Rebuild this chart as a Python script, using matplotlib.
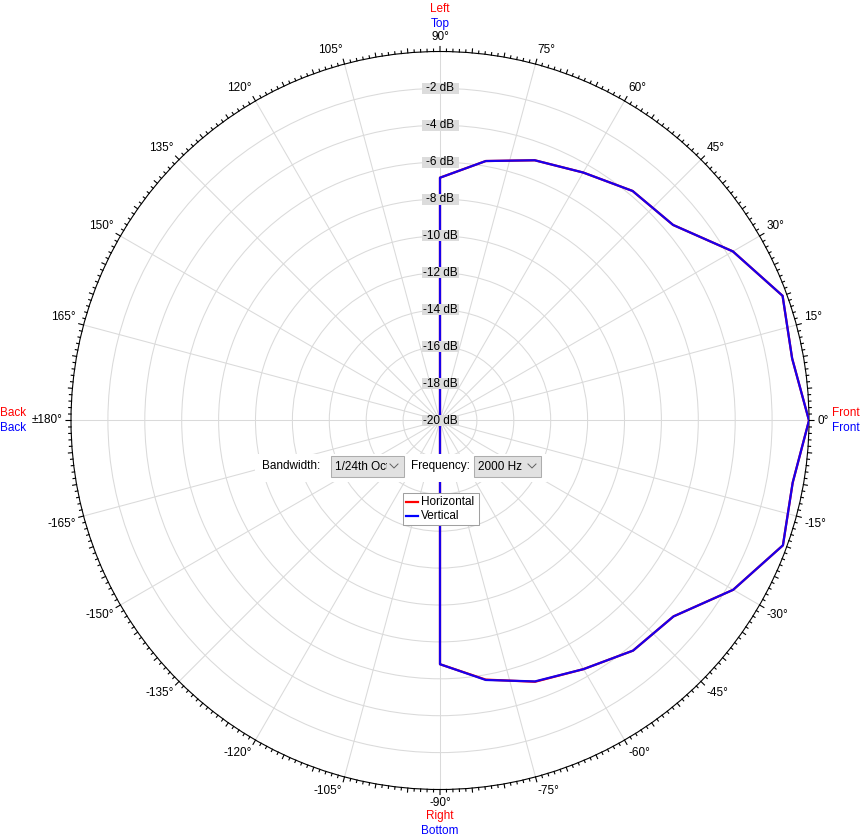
import numpy as np
import matplotlib
matplotlib.use("Agg")
import matplotlib.pyplot as plt
from matplotlib.patches import Rectangle
from matplotlib.lines import Line2D
import matplotlib.transforms as mtransforms

plt.rcParams['font.family'] = ['Liberation Sans', 'DejaVu Sans']

# ---------------- data ----------------
angles_deg = list(range(-180, 181, 10))
vertical_db = [-20, -20, -20, -20, -20, -20, -20, -20, -20,
               -6.79, -5.72, -4.95, -4.44, -3.72, -3.48, -1.65, -0.22, -0.59,
               0.0,
               -0.62, -0.24, -1.67, -3.51, -3.76, -4.48, -4.99, -5.72, -6.84,
               -20, -20, -20, -20, -20, -20, -20, -20, -20]
horizontal_db = [-20, -20, -20, -20, -20, -20, -20, -20, -20,
                 -6.79, -5.74, -4.93, -4.44, -3.72, -3.48, -1.65, -0.22, -0.59,
                 0.0,
                 -0.62, -0.24, -1.67, -3.51, -3.76, -4.48, -4.99, -5.72, -6.84,
                 -20, -20, -20, -20, -20, -20, -20, -20, -20]
ring_db = [-2, -4, -6, -8, -10, -12, -14, -16, -18, -20]
angle_labels_deg = list(range(-165, 181, 15))
series_names = ["Horizontal", "Vertical"]
series_colors = ["#ff0000", "#0000ff"]
bandwidth_text = "1/24th Oct"
frequency_text = "2000 Hz"

# ---------------- figure ----------------
W, H = 862, 838
fig = plt.figure(figsize=(W / 100, H / 100), dpi=100)
fig.patch.set_facecolor("white")

cx, cy, R = 440, 420.5, 369
rw, rh = R / W, R / H
ax = fig.add_axes([cx / W - rw, 1 - cy / H - rh, 2 * rw, 2 * rh], projection="polar")
ax.set_theta_zero_location("E")
ax.set_theta_direction(1)
ax.set_ylim(-20, 0)
ax.set_xticks(np.deg2rad(np.arange(0, 360, 15)))
ax.set_xticklabels([])
ax.set_yticks(ring_db[:-1])
ax.set_yticklabels([])
ax.grid(True, color="#dadada", lw=0.75)
ax.tick_params(axis="x", length=0)
ax.spines["polar"].set_color("black")
ax.spines["polar"].set_linewidth(0.8)

px2db = 20.0 / R

# tick marks on outer circle
tx, ty = [], []
for d in range(360):
    L = 5 if d % 15 == 0 else (4 if d % 5 == 0 else 2.5)
    th = np.deg2rad(d)
    tx += [th, th, np.nan]
    ty += [0, L * px2db, np.nan]
ax.plot(tx, ty, color="black", lw=0.8, clip_on=False)

# data lines
th = np.deg2rad(angles_deg)
ax.plot(th, horizontal_db, color=series_colors[0], lw=1.6, zorder=3)
ax.plot(th, vertical_db, color="#1800ec", lw=1.6, zorder=4)

# angle labels
for a in angle_labels_deg:
    t = np.deg2rad(a)
    c, s = np.cos(t), np.sin(t)
    ha = "left" if c > 1e-6 else ("right" if c < -1e-6 else "center")
    va = "bottom" if s > 1e-6 else ("top" if s < -1e-6 else "center")
    lab = "\u00b1180\u00b0" if a == 180 else f"{a}\u00b0"
    ax.annotate(lab, xy=(t, 0), xytext=(8 * c, 8 * s), textcoords="offset pixels",
                ha=ha, va=va, fontsize=8.5, color="black", annotation_clip=False)

# direction labels
def dirlab(theta_deg, dx, dy, text, color, ha, va):
    ax.annotate(text, xy=(np.deg2rad(theta_deg), 0), xytext=(dx, dy),
                textcoords="offset pixels", ha=ha, va=va, fontsize=8.5,
                color=color, annotation_clip=False)

dirlab(90, 0, 42, "Left", "#ff0000", "center", "center")
dirlab(90, 0, 28, "Top", "#0000ff", "center", "center")
dirlab(-90, 0, -27, "Right", "#ff0000", "center", "center")
dirlab(-90, 0, -41, "Bottom", "#0000ff", "center", "center")
dirlab(0, 23, 7.5, "Front", "#ff0000", "left", "center")
dirlab(0, 23, -7.5, "Front", "#0000ff", "left", "center")
dirlab(180, -45, 7.5, "Back", "#ff0000", "right", "center")
dirlab(180, -45, -7.5, "Back", "#0000ff", "right", "center")

# dB labels with grey boxes
for v in ring_db:
    trans = fig.dpi_scale_trans + mtransforms.ScaledTranslation(np.pi / 2, v, ax.transData)
    ax.add_artist(Rectangle((-0.185, -0.055), 0.37, 0.11, transform=trans,
                            facecolor="#dcdcdc", edgecolor="none", zorder=5, clip_on=False))
    ax.annotate(f"{v} dB", xy=(np.pi / 2, v), xytext=(0, 0), textcoords="offset pixels",
                ha="center", va="center", fontsize=8.5, zorder=6, annotation_clip=False)

# ---------------- UI-like controls (figure pixel coords) ----------------
def fx(x):
    return x / W

def fy(y):
    return 1 - y / H

def rect(x0, y0, x1, y1, fc, ec, z=10, lw=0.75):
    fig.add_artist(Rectangle((fx(x0), fy(y1)), fx(x1) - fx(x0), fy(y0) - fy(y1),
                             transform=fig.transFigure, facecolor=fc, edgecolor=ec,
                             lw=lw, zorder=z))

def ftext(x, y, s, ha="left", color="black", z=12, size=8.5):
    fig.text(fx(x), fy(y), s, ha=ha, va="center", fontsize=size, color=color, zorder=z)

def chevron(xc, yc):
    fig.add_artist(Line2D([fx(xc - 4), fx(xc), fx(xc + 4)], [fy(yc - 2), fy(yc + 2), fy(yc - 2)],
                          transform=fig.transFigure, color="#606060", lw=0.7, zorder=14))

# panel background
rect(255, 454, 547, 482, "white", "none", z=9, lw=0)
ftext(262, 466, "Bandwidth:")
rect(331, 456, 404, 477, "#e1e1e1", "#adadad")
ftext(335, 466.5, bandwidth_text)
rect(387, 457, 403.5, 476.5, "#e1e1e1", "none", z=13, lw=0)
chevron(394, 466)
ftext(411, 466, "Frequency:")
rect(474, 456, 541, 477, "#e1e1e1", "#adadad")
ftext(478, 466.5, frequency_text)
chevron(532, 466)

# legend
rect(403, 493, 479, 525, "white", "#a0a0a0", z=10)
for i, (name, col) in enumerate(zip(series_names, series_colors)):
    yy = 502 + 14 * i
    fig.add_artist(Line2D([fx(406), fx(418)], [fy(yy), fy(yy)], transform=fig.transFigure,
                          color=col, lw=1.6, zorder=12))
    ftext(421, yy, name)

fig.savefig("out.png", dpi=100, facecolor="white")
